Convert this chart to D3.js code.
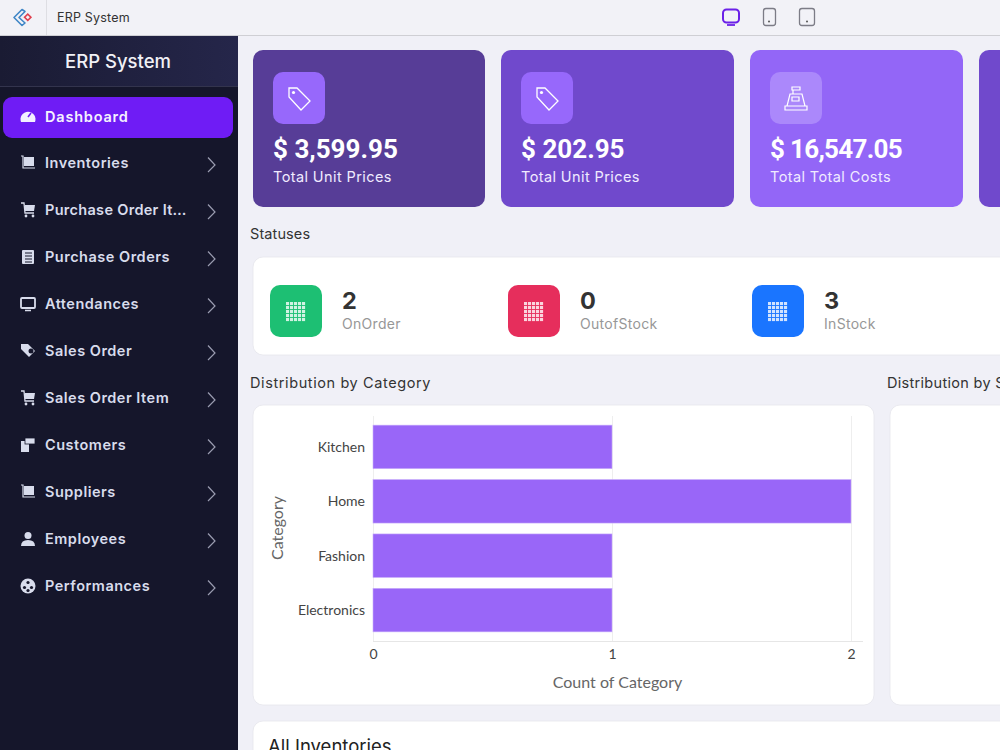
<!DOCTYPE html>
<html>
<head>
<meta charset="utf-8">
<title>ERP System</title>
<script src="https://cdn.jsdelivr.net/npm/d3@7"></script>
<style>
  html, body { margin: 0; padding: 0; background: #f0f0f7; overflow: hidden; }
  svg { display: block; font-family: Inter, sans-serif; }
</style>
</head>
<body>
<div id="root"></div>
<script>
const appTitle = "ERP System";
const menuItems = ["Inventories", "Purchase Order It…", "Purchase Orders", "Attendances", "Sales Order",
    "Sales Order Item", "Customers", "Suppliers", "Employees", "Performances"];
const menuIcons = ["cart", "basket", "list", "monitor", "tag", "basket", "cards", "cart", "user", "reel"];

const kpiValues = ["$ 3,599.95", "$ 202.95", "$ 16,547.05", ""];
const kpiLabels = ["Total Unit Prices", "Total Unit Prices", "Total Total Costs", ""];

const statusNames = ["OnOrder", "OutofStock", "InStock"];
const statusCounts = [2, 0, 3];

const categories = ["Kitchen", "Home", "Fashion", "Electronics"];
const categoryCounts = [1, 2, 1, 1];
const countTicks = [0, 1, 2];

const width = 1000, height = 750;
const svg = d3.select("#root").append("svg")
    .attr("width", width)
    .attr("height", height);

function label(parent, x, y, str, size, weight, fill, spacing) {
    return parent.append("text")
        .attr("x", x)
        .attr("y", y)
        .attr("dy", ".35em")
        .style("font-size", size + "px")
        .style("font-weight", weight)
        .style("letter-spacing", (spacing || 0) + "px")
        .attr("fill", fill)
        .text(str);
}

// page background
svg.append("rect").attr("width", width).attr("height", height).attr("fill", "#f0f0f7");

// top bar
const topbar = svg.append("g");
topbar.append("rect").attr("width", width).attr("height", 35).attr("fill", "#f2f2f7");
topbar.append("line").attr("x1", 0).attr("x2", width).attr("y1", 35.5).attr("y2", 35.5).attr("stroke", "#cfcfd4");
topbar.append("line").attr("x1", 46.5).attr("x2", 46.5).attr("y1", 0).attr("y2", 35).attr("stroke", "#dedee3");
topbar.append("path").attr("d", "M22 9.5 L14 17.5 L22 25.5 L25 23 L19 17.5 L25 11.5 Z")
    .attr("fill", "none").attr("stroke", "#3f86c6").attr("stroke-width", 1.6).attr("stroke-linejoin", "round");
topbar.append("rect").attr("x", 25.5).attr("y", 15).attr("width", 4.5).attr("height", 4.5)
    .attr("transform", "rotate(45 27.75 17.25)").attr("fill", "none").attr("stroke", "#e0404f").attr("stroke-width", 1.6);
label(topbar, 57, 17.5, appTitle, 12.5, 400, "#333", 0.2);

// device switcher
topbar.append("rect").attr("x", 723).attr("y", 9.5).attr("width", 16).attr("height", 13).attr("rx", 3.5)
    .attr("fill", "none").attr("stroke", "#6b21e8").attr("stroke-width", 2);
topbar.append("line").attr("x1", 727).attr("x2", 735).attr("y1", 25).attr("y2", 25)
    .attr("stroke", "#6b21e8").attr("stroke-width", 1.8);
topbar.append("rect").attr("x", 763.5).attr("y", 8.5).attr("width", 12).attr("height", 17).attr("rx", 2.5)
    .attr("fill", "none").attr("stroke", "#7c7c86").attr("stroke-width", 1.3);
topbar.append("circle").attr("cx", 769).attr("cy", 21.5).attr("r", 1).attr("fill", "#555");
topbar.append("rect").attr("x", 799.5).attr("y", 8.5).attr("width", 15).attr("height", 17).attr("rx", 2.5)
    .attr("fill", "none").attr("stroke", "#7c7c86").attr("stroke-width", 1.3);
topbar.append("circle").attr("cx", 807).attr("cy", 21.5).attr("r", 1).attr("fill", "#555");

// sidebar
const side = svg.append("g");
const sideGrad = svg.append("defs").append("linearGradient").attr("id", "sideHead")
    .attr("x1", 0).attr("x2", 1).attr("y1", 0).attr("y2", 0);
sideGrad.append("stop").attr("offset", "0%").attr("stop-color", "#1a1b33");
sideGrad.append("stop").attr("offset", "100%").attr("stop-color", "#25264a");

side.append("rect").attr("x", 0).attr("y", 36).attr("width", 238).attr("height", 714).attr("fill", "#15162b");
side.append("rect").attr("x", 0).attr("y", 36).attr("width", 238).attr("height", 50.5).attr("fill", "url(#sideHead)");
side.append("line").attr("x1", 0).attr("x2", 238).attr("y1", 86.5).attr("y2", 86.5).attr("stroke", "#33344d");
label(side, 118, 61.5, appTitle, 18.5, 500, "#f1f1f6").attr("text-anchor", "middle");

side.append("rect").attr("x", 3).attr("y", 97).attr("width", 230).attr("height", 41).attr("rx", 9).attr("fill", "#6f1cf5");
side.append("path").attr("d", "M21 122 a7.5 7.5 0 1 1 14 0 Z").attr("fill", "#f3f0ff");
side.append("path").attr("d", "M28 117 L31 113").attr("stroke", "#6f1cf5").attr("stroke-width", 1.5);
label(side, 45, 117, "Dashboard", 14.5, 600, "#f5f2ff", 0.8);

function menuIcon(g, type) {
    const c = "#d8dcec";
    if (type === "cart") {
        g.append("rect").attr("x", -4).attr("y", -6).attr("width", 10).attr("height", 9).attr("fill", c);
        g.append("path").attr("d", "M-7 -7 L-5 -7 L-5 5 L7 5").attr("fill", "none").attr("stroke", c).attr("stroke-width", 1.2);
    } else if (type === "basket") {
        g.append("path").attr("d", "M-7 -7 L-4 -7 L-3 3 L6 3").attr("fill", "none").attr("stroke", c).attr("stroke-width", 1.3);
        g.append("path").attr("d", "M-3 -5 L7 -5 L6 1 L-3 1 Z").attr("fill", c);
        g.append("circle").attr("cx", -2).attr("cy", 6).attr("r", 1.4).attr("fill", c);
        g.append("circle").attr("cx", 5).attr("cy", 6).attr("r", 1.4).attr("fill", c);
    } else if (type === "list") {
        g.append("rect").attr("x", -6).attr("y", -7).attr("width", 12).attr("height", 14).attr("rx", 1).attr("fill", c);
        g.selectAll("line").data([-4, -1, 2, 5]).enter().append("line")
            .attr("x1", -3).attr("x2", 4).attr("y1", d => d).attr("y2", d => d)
            .attr("stroke", "#15162b").attr("stroke-width", 1);
    } else if (type === "monitor") {
        g.append("rect").attr("x", -7).attr("y", -6).attr("width", 14).attr("height", 10).attr("rx", 1)
            .attr("fill", "none").attr("stroke", c).attr("stroke-width", 1.8);
        g.append("path").attr("d", "M-3 6.5 L3 6.5").attr("stroke", c).attr("stroke-width", 1.5);
    } else if (type === "tag") {
        g.append("path").attr("d", "M-7 -7 L0 -7 L7 0 L1 6 L-7 -2 Z").attr("fill", c);
        g.append("circle").attr("cx", 3).attr("cy", 0).attr("r", 2.5).attr("fill", "#15162b");
    } else if (type === "cards") {
        g.append("rect").attr("x", -7).attr("y", -4).attr("width", 8).attr("height", 11).attr("fill", c);
        g.append("rect").attr("x", -3).attr("y", -7).attr("width", 10).attr("height", 6).attr("fill", c)
            .attr("stroke", "#15162b").attr("stroke-width", 0.8);
    } else if (type === "user") {
        g.append("circle").attr("cx", 0).attr("cy", -3.5).attr("r", 3.5).attr("fill", c);
        g.append("path").attr("d", "M-7 7 Q-7 1 0 1 Q7 1 7 7 Z").attr("fill", c);
    } else {
        g.append("circle").attr("r", 7.5).attr("fill", c);
        g.selectAll("circle.hole").data([[0, -3.5], [-3.5, 1.5], [3.5, 1.5], [0, 4.5]]).enter().append("circle")
            .attr("class", "hole").attr("cx", d => d[0]).attr("cy", d => d[1]).attr("r", 1.6).attr("fill", "#15162b");
    }
}

const menuRow = side.selectAll("g.menu")
    .data(menuItems)
    .enter().append("g")
    .attr("class", "menu")
    .attr("transform", (d, i) => "translate(0," + (163 + i * 47) + ")");
menuRow.each(function (d, i) {
    const row = d3.select(this);
    menuIcon(row.append("g").attr("transform", "translate(28,0)"), menuIcons[i]);
    label(row, 45, 0, d, 14.5, 600, "#d8dcec", i === 1 ? 0.3 : 0.5);
    row.append("path").attr("d", "M208 -5.5 L215 2 L208 9").attr("fill", "none")
        .attr("stroke", "#9a9cb0").attr("stroke-width", 1.2);
});

// kpi cards
const cardX = [253, 501, 750, 979], cardW = [232, 233, 213, 60];
const cardFill = ["#573d97", "#7049cc", "#9366f7", "#7049cc"];
const tileFill = ["#9768fb", "#9768fb", "#ab88fb", "#9768fb"];
const valueSpacing = [0, 0, -0.7, 0];

const card = svg.selectAll("g.card")
    .data(kpiValues)
    .enter().append("g")
    .attr("class", "card");
card.append("rect")
    .attr("x", (d, i) => cardX[i]).attr("y", 50)
    .attr("width", (d, i) => cardW[i]).attr("height", 157)
    .attr("rx", 10)
    .attr("fill", (d, i) => cardFill[i]);
card.filter(d => d !== "").each(function (d, i) {
    const g = d3.select(this), x = cardX[i] + 20;
    g.append("rect").attr("x", x).attr("y", 72).attr("width", 52).attr("height", 52).attr("rx", 10)
        .attr("fill", tileFill[i]);
    const icon = g.append("g").attr("transform", "translate(" + (x + 26) + ",98)");
    if (i < 2) {
        icon.append("path").attr("d", "M-10 -10 L-2 -10 L11 3 L2 12 L-10 -1 Z")
            .attr("fill", "none").attr("stroke", "#fff").attr("stroke-width", 1.3);
        icon.append("circle").attr("cx", -5.5).attr("cy", -5.5).attr("r", 1.6).attr("fill", "#fff");
    } else {
        icon.append("path").attr("d", "M-11 8 L-11 12 L11 12 L11 8 Z M-9 8 L-6 -4 L6 -4 L9 8 M-3 -4 L-3 -8 L3 -8 M-4 -11 L4 -11 L4 -8 L-4 -8 Z M-4 -1 L3 -1 L3 3 L-4 3 Z")
            .attr("fill", "none").attr("stroke", "#fff").attr("stroke-width", 1.2);
    }
    label(g, x, 149, d, 26, 700, "#fff", valueSpacing[i]).style("font-family", "Roboto, sans-serif");
    label(g, x, 177, kpiLabels[i], 14.5, 400, "#f0ebff", 0.4);
});

// section headings
label(svg, 250, 234, "Statuses", 14.5, 400, "#333", 0.1);
label(svg, 250, 383, "Distribution by Category", 14.5, 400, "#333", 0.6);
label(svg, 887, 383, "Distribution by Status", 14.5, 400, "#333", 0.3);

// panels
const panel = (x, y, w, h) => svg.append("rect").attr("x", x).attr("y", y).attr("width", w).attr("height", h)
    .attr("rx", 10).attr("fill", "#fff").attr("stroke", "#e6e6ec").attr("stroke-width", 0.8);
panel(253, 257, 790, 98);
panel(253, 405, 621, 300);
panel(890, 405, 150, 300);
panel(253, 721, 790, 80);
label(svg, 268, 747, "All Inventories", 18.5, 400, "#222");

// statuses
const statusX = [270, 508, 752], statusFill = ["#1dbf73", "#e62e5c", "#1a75ff"];
const status = svg.selectAll("g.status")
    .data(statusNames)
    .enter().append("g")
    .attr("class", "status")
    .attr("transform", (d, i) => "translate(" + statusX[i] + ",285)");
status.append("rect").attr("width", 52).attr("height", 52).attr("rx", 10).attr("fill", (d, i) => statusFill[i]);
status.each(function (d, i) {
    const g = d3.select(this);
    // icon grid, 5 x 5 cells
    g.selectAll("rect.cell").data(d3.range(25)).enter().append("rect")
        .attr("class", "cell")
        .attr("x", c => 16 + (c % 5) * 4)
        .attr("y", c => 17 + Math.floor(c / 5) * 4)
        .attr("width", 3.1).attr("height", 3.1)
        .attr("fill", "#fff").attr("opacity", 0.8);
    label(g, 72, 16, statusCounts[i], 23.5, 700, "#333");
    label(g, 72, 39, d, 14, 400, "#979797", 0.3);
});

// bar chart
const chartBox = { left: 373, right: 851, top: 416, bottom: 641, axisEnd: 863 };
const x = d3.scaleLinear().domain([0, d3.max(categoryCounts)]).range([chartBox.left, chartBox.right]);
const y = d3.scaleBand().domain(categories).range([chartBox.top, chartBox.bottom])
    .paddingInner(0.2).paddingOuter(0.168);

const chart = svg.append("g").style("font-family", "Lato, sans-serif");

chart.append("g").selectAll("line")
    .data(countTicks)
    .enter().append("line")
    .attr("x1", d => x(d) + 0.5).attr("x2", d => x(d) + 0.5)
    .attr("y1", chartBox.top).attr("y2", chartBox.bottom)
    .attr("stroke", "#eeeeee");

chart.append("g").selectAll("rect")
    .data(categories)
    .enter().append("rect")
    .attr("x", x(0))
    .attr("y", d => y(d))
    .attr("width", (d, i) => x(categoryCounts[i]) - x(0))
    .attr("height", y.bandwidth())
    .attr("fill", "#9966f8")
    .attr("stroke", "#c9aefb")
    .attr("stroke-width", 0.6);

const xAxis = chart.append("g")
    .attr("transform", "translate(0," + chartBox.bottom + ")")
    .call(d3.axisBottom(x).tickValues(countTicks).tickFormat(d3.format("d")).tickSize(0).tickPadding(8));
xAxis.select(".domain").remove();
xAxis.append("line").attr("x1", chartBox.left).attr("x2", chartBox.axisEnd).attr("y1", 0.5).attr("y2", 0.5).attr("stroke", "#e6e6e6");
xAxis.selectAll("text").style("font-size", "14px").style("font-family", "Lato, sans-serif").attr("fill", "#444");

const yAxis = chart.append("g")
    .attr("transform", "translate(" + chartBox.left + ",0.6)")
    .call(d3.axisLeft(y).tickSize(0).tickPadding(8));
yAxis.select(".domain").remove();
yAxis.selectAll("text").style("font-size", "14px").style("font-family", "Lato, sans-serif").attr("fill", "#444");

chart.append("text").attr("x", 617.5).attr("y", 682).attr("dy", ".35em").attr("text-anchor", "middle")
    .style("font-size", "16px").attr("fill", "#666").text("Count of Category");
chart.append("text").attr("transform", "translate(277,528) rotate(-90)").attr("dy", ".35em").attr("text-anchor", "middle")
    .style("font-size", "16px").attr("fill", "#666").text("Category");
</script>
</body>
</html>
